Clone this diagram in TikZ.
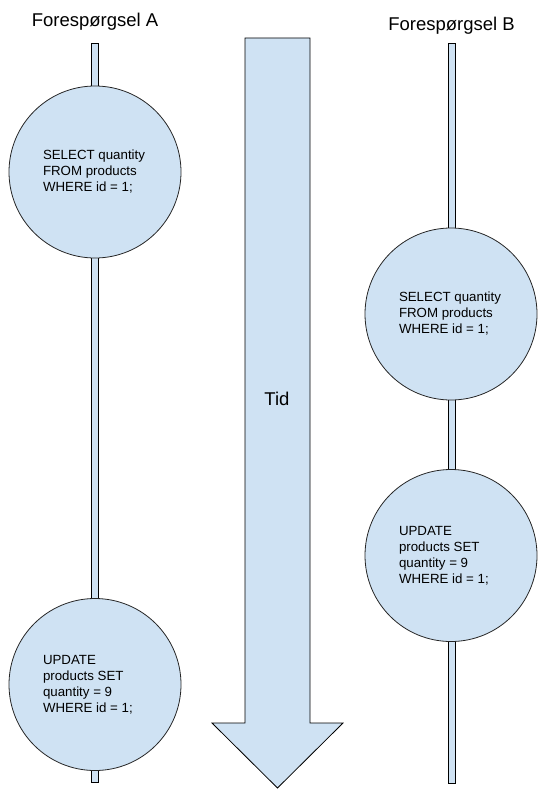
\documentclass[tikz,border=0pt]{standalone}
\usepackage{fontspec}
\setmainfont{Liberation Sans}
\usetikzlibrary{calc}
\definecolor{lightblue}{HTML}{CFE2F3}

\begin{document}
\begin{tikzpicture}[x=1pt, y=-1pt,
		query/.style={circle, draw=black!85, line width=0.8pt, fill=lightblue, minimum size=172pt, inner sep=0pt,
			text width=104pt, align=flush left, font=\fontsize{13.3}{16}\selectfont},
		bar/.style={draw=black, line width=0.8pt, fill=lightblue},
		title/.style={anchor=base, font=\fontsize{18.5}{22}\selectfont}]
			%%%%% START %%%%%
			
			\useasboundingbox (0, 0) rectangle (547, 789);
			
			\node[title] (titleA) at (95, 27) {Forespørgsel A};
			\node[title] (titleB) at (451.5, 31) {Forespørgsel B};
			
			\coordinate (topA) at (95, 43);
			\coordinate (botA) at (95, 782);
			\coordinate (topB) at (451.5, 43);
			\coordinate (botB) at (451.5, 783);
			
			\draw[bar] ($(topA)+(-3.5, 0)$) rectangle ($(botA)+(3.5, 0)$);
			\draw[bar] ($(topB)+(-3.5, 0)$) rectangle ($(botB)+(3.5, 0)$);
			
			\node[query] (selectA) at (95, 172) {SELECT quantity\\FROM products\\WHERE id = 1;};
			\node[query] (updateA) at (95, 684.5) {UPDATE\\products SET\\quantity = 9\\WHERE id = 1;};
			
			\node[query] (selectB) at (451, 314) {SELECT quantity\\FROM products\\WHERE id = 1;};
			\node[query] (updateB) at (451, 555.5) {UPDATE\\products SET\\quantity = 9\\WHERE id = 1;};
			
			\draw[bar] (245, 38) -- (310, 38) -- (310, 723) -- (343, 723) -- (277.5, 788)
				-- (212, 723) -- (245, 723) -- cycle;
			\node[anchor=base, font=\fontsize{18.5}{22}\selectfont] (time) at (277, 405) {Tid};
			
			%%%%% END %%%%%
\end{tikzpicture}
\end{document}
